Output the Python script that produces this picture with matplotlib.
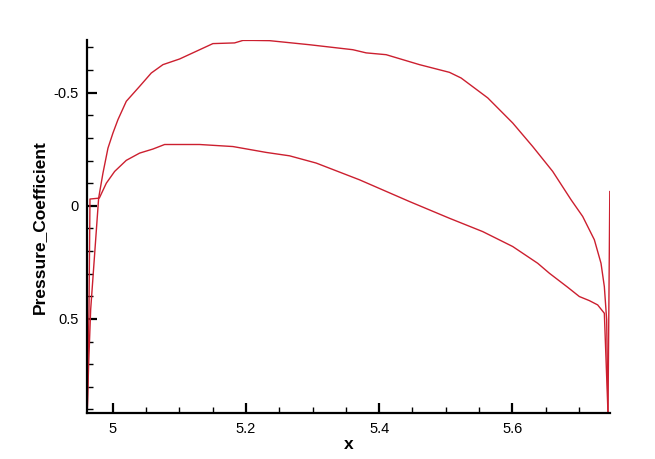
import numpy as np
import matplotlib
matplotlib.use("Agg")
import matplotlib.pyplot as plt
from matplotlib.ticker import MultipleLocator, FuncFormatter

# upper surface (suction side), leading edge -> trailing edge
upper_x = [4.9620, 4.9640, 4.9670, 4.9790, 4.9855, 4.9930, 5.0005, 5.0080,
           5.0205, 5.0405, 5.0580, 5.0755, 5.1005, 5.1255, 5.1505, 5.1830,
           5.1955, 5.2105, 5.2355, 5.2955, 5.3605, 5.3805, 5.4105, 5.4605,
           5.5055, 5.5230, 5.5630, 5.6005, 5.6305, 5.6605, 5.6880, 5.7055,
           5.7230, 5.7330, 5.7380, 5.7415, 5.7435]
upper_cp = [0.90, 0.70, 0.46, -0.034, -0.145, -0.255, -0.322, -0.381,
            -0.462, -0.528, -0.587, -0.624, -0.649, -0.683, -0.717, -0.720,
            -0.731, -0.731, -0.730, -0.712, -0.690, -0.676, -0.668, -0.624,
            -0.590, -0.565, -0.477, -0.366, -0.262, -0.152, -0.027, 0.047,
            0.150, 0.254, 0.357, 0.504, 0.917]

# lower surface, leading edge -> trailing edge (ends with the TE spike)
lower_x = [4.9620, 4.9645, 4.9660, 4.9800, 4.9905, 5.0030, 5.0205, 5.0405,
           5.0605, 5.0780, 5.1305, 5.1805, 5.2305, 5.2655, 5.3055, 5.3705,
           5.4455, 5.5055, 5.5555, 5.6005, 5.6380, 5.6555, 5.6830, 5.7005,
           5.7155, 5.7280, 5.7380, 5.7435, 5.7462]
lower_cp = [0.90, 0.46, -0.030, -0.034, -0.100, -0.152, -0.201, -0.233,
            -0.251, -0.271, -0.271, -0.262, -0.236, -0.221, -0.189, -0.115,
            -0.019, 0.055, 0.114, 0.180, 0.254, 0.298, 0.360, 0.401,
            0.419, 0.438, 0.475, 0.917, -0.063]

plt.rcParams['font.family'] = ['Liberation Sans', 'DejaVu Sans']
plt.rcParams['axes.unicode_minus'] = False

fig = plt.figure(figsize=(6.55, 4.59), dpi=100)
ax = fig.add_axes([0.1328, 0.0996, 0.7985, 0.8133])

line_color = '#cc1f2f'
ax.plot(upper_x, upper_cp, color=line_color, lw=1.0)
ax.plot(lower_x, lower_cp, color=line_color, lw=1.0)

ax.set_xlim(4.9615, 5.7465)
ax.set_ylim(0.917, -0.733)

ax.spines['top'].set_visible(False)
ax.spines['right'].set_visible(False)
ax.spines['left'].set_linewidth(1.6)
ax.spines['bottom'].set_linewidth(1.6)

ax.xaxis.set_major_locator(MultipleLocator(0.2))
ax.xaxis.set_minor_locator(MultipleLocator(0.05))
ax.yaxis.set_major_locator(MultipleLocator(0.5))
ax.yaxis.set_minor_locator(MultipleLocator(0.1))
fmt = FuncFormatter(lambda v, p: '%g' % round(v, 6))
ax.xaxis.set_major_formatter(fmt)
ax.yaxis.set_major_formatter(fmt)

ax.tick_params(which='major', direction='in', length=7, width=1.6,
               labelsize=10.5, pad=6)
ax.tick_params(which='minor', direction='in', length=4.5, width=1.0)

ax.set_xlabel('x', fontsize=12.5, fontweight='bold', labelpad=1)
ax.set_ylabel('Pressure_Coefficient', fontsize=12.5, fontweight='bold',
              labelpad=5)

plt.savefig('out.png', dpi=100)
